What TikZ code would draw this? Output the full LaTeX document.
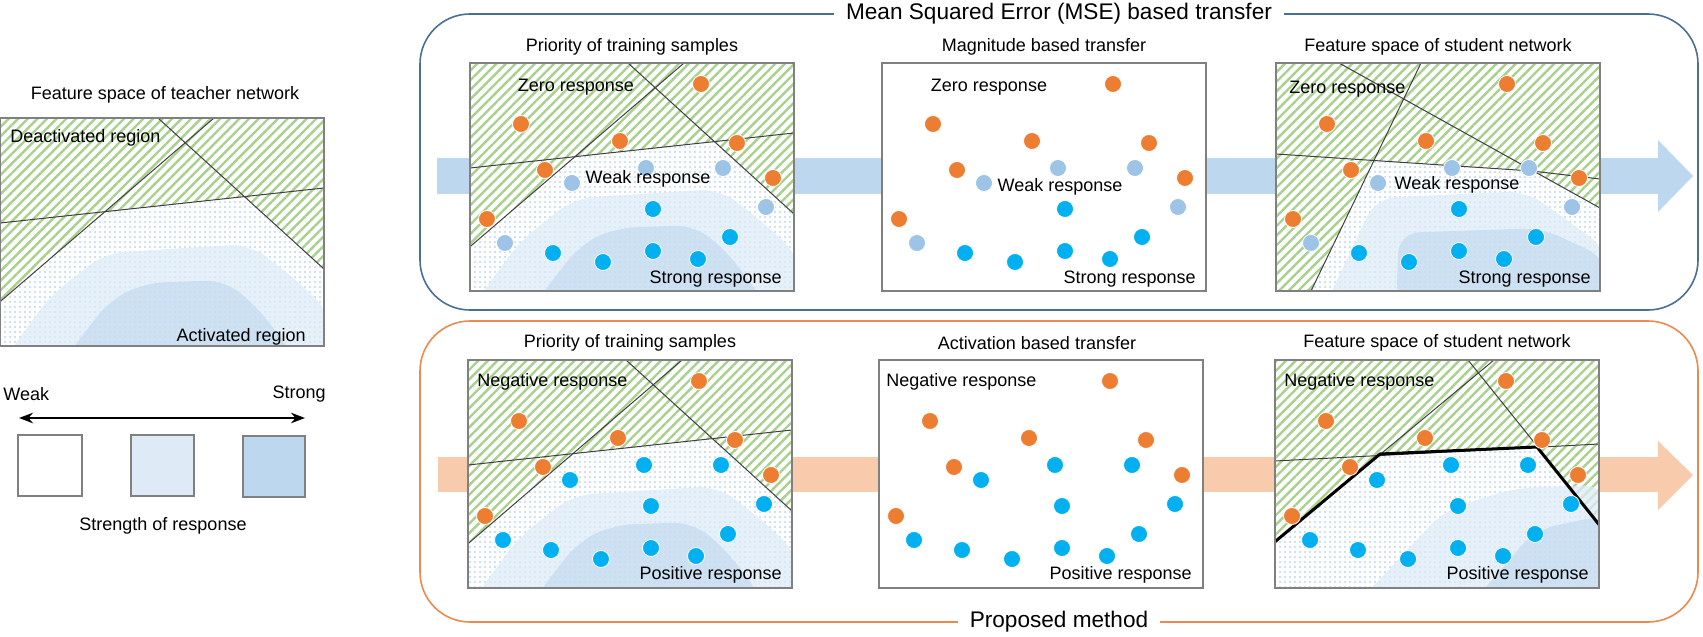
\documentclass[tikz,border=0pt]{standalone}
\usepackage{fontspec}
\setmainfont{Liberation Sans}
\usetikzlibrary{patterns.meta,arrows.meta}
\definecolor{hatch}{HTML}{A9D18E}
\definecolor{dotc}{HTML}{9DC3E6}
\definecolor{lightb}{HTML}{DEEBF7}
\definecolor{darkb}{HTML}{BDD7EE}
\definecolor{orng}{HTML}{ED7D31}
\definecolor{weakc}{HTML}{9DC3E6}
\definecolor{strongc}{HTML}{00B0F0}
\definecolor{bandb}{HTML}{BDD7EE}
\definecolor{bando}{HTML}{F8CBAD}
\definecolor{frameb}{HTML}{4A6F96}
\definecolor{frameo}{HTML}{EB8A4E}
\definecolor{lgray}{HTML}{404040}

\tikzset{
  hatched/.style={pattern={Lines[angle=45,distance=3.4pt,line width=1.2pt]}, pattern color=hatch},
  dotted area/.style={pattern={Dots[distance=2.5pt,radius=0.4pt]}, pattern color=dotc},
  panel/.style={draw=gray, line width=0.8pt},
  sep/.style={draw=lgray, line width=0.5pt},
  lab/.style={font=\fontsize{9}{10}\selectfont, inner sep=0pt},
  big/.style={font=\fontsize{11.3}{13}\selectfont, fill=white, inner xsep=6pt, inner ysep=1pt},
  smp/.style={draw=white, line width=0.4pt},
}

% samples, #1 = colour of the weak ones
\newcommand\samples[1]{%
  \foreach \u/\v in {231/21,51/61,150/78,267/80,75/107,303/115,17/156}
    \filldraw[smp, fill=orng] (\u,\v) circle (8.5);
  \foreach \u/\v in {102/120,176/105,253/105,296/144,35/180}
    \filldraw[smp, fill=#1] (\u,\v) circle (8.5);
  \foreach \u/\v in {183/146,83/190,133/199,183/188,228/196,260/174}
    \filldraw[smp, fill=strongc] (\u,\v) circle (8.5);
}

% teacher-like feature space
\newcommand\prioback{%
  \begin{scope}
    \clip (0,0) rectangle (324,228);
    \fill[white] (0,0) rectangle (324,228);
    \fill[hatched] (0,0) rectangle (324,228);
    \fill[white] (0,183.7) -- (104.9,93.7) -- (244.4,78.6) -- (324,151) -- (324,228) -- (0,228) -- cycle;
    \fill[dotted area] (0,183.7) -- (104.9,93.7) -- (244.4,78.6) -- (324,151) -- (324,228) -- (0,228) -- cycle;
    \fill[lightb, opacity=.75, rounded corners=10pt] (5,240) -- (50,178) -- (105,135) -- (250,126) -- (300,165) -- (330,195) -- (330,240) -- cycle;
    \fill[darkb, opacity=.6, rounded corners=10pt] (65,240) -- (110,182) -- (145,165) -- (225,162) -- (260,192) -- (295,240) -- cycle;
    \draw[sep] (-10,192.3) -- (230,-13.7);
    \draw[sep] (158,0) -- (335,161);
    \draw[sep] (0,105) -- (324,70);
  \end{scope}
}

\begin{document}
\begin{tikzpicture}[x=0.5pt, y=-0.5pt]
\useasboundingbox (0,0) rectangle (1703,637);

% outer frames
\draw[frameb, line width=0.8pt, rounded corners=25pt] (420,14) rectangle (1698,310);
\draw[frameo, line width=0.8pt, rounded corners=25pt] (420,321) rectangle (1698,622);
\node[big] (mse) at (1059,14) {Mean Squared Error (MSE) based transfer};
\node[big] (prop) at (1059,622) {Proposed method};

% broad arrows
\fill[bandb] (437,158) rectangle (1658,194);
\fill[bandb] (1658,140) -- (1693,176) -- (1658,212) -- cycle;
\fill[bando] (438,457) rectangle (1658,492);
\fill[bando] (1658,441) -- (1693,475) -- (1658,510) -- cycle;

% teacher
\node[lab] (tt) at (165,95) {Feature space of teacher network};
\begin{scope}[shift={(0,118)}]
  \prioback
  \node[lab, anchor=west] (tdeact) at (10,20) {Deactivated region};
  \node[lab, anchor=east] (tact) at (306,219) {Activated region};
  \draw[panel] (0,0) rectangle (324,228);
\end{scope}

% legend
\node[lab, anchor=west] (weak) at (3,394) {Weak};
\node[lab, anchor=east] (strong) at (326,394) {Strong};
\coordinate (lw) at (19,418);
\coordinate (ls) at (305,418);
\draw[line width=1.3pt, {Stealth[length=7pt]}-{Stealth[length=7pt]}] (lw) -- (ls);
\draw[panel, fill=white] (18,435) rectangle (82,496);
\draw[panel, fill=lightb] (131,435) rectangle (194,496);
\draw[panel, fill=darkb] (243,436) rectangle (305,497);
\node[lab] (sor) at (163,526) {Strength of response};

% ---- top row ----
\node[lab] (t1) at (632,47) {Priority of training samples};
\begin{scope}[shift={(470,63)}]
  \prioback
  \samples{weakc}
  \node[lab] (z1) at (106,24) {Zero response};
  \node[lab] (w1) at (178,116) {Weak response};
  \node[lab, anchor=east] (s1) at (312,216) {Strong response};
  \draw[panel] (0,0) rectangle (324,228);
\end{scope}

\node[lab] (t2) at (1044,47) {Magnitude based transfer};
\begin{scope}[shift={(882,63)}]
  \fill[white] (0,0) rectangle (324,228);
  \samples{weakc}
  \node[lab] (z2) at (107,24) {Zero response};
  \node[lab] (w2) at (178,124) {Weak response};
  \node[lab, anchor=east] (s2) at (314,216) {Strong response};
  \draw[panel] (0,0) rectangle (324,228);
\end{scope}

\node[lab] (t3) at (1438,47) {Feature space of student network};
\begin{scope}[shift={(1276,63)}]
  \begin{scope}
    \clip (0,0) rectangle (324,228);
    \fill[white] (0,0) rectangle (324,228);
    \fill[hatched] (0,0) rectangle (324,228);
    \fill[white] (98,97.5) -- (256,107.5) -- (324,145) -- (324,228) -- (35,228) -- cycle;
    \fill[dotted area] (98,97.5) -- (256,107.5) -- (324,145) -- (324,228) -- (35,228) -- cycle;
    \fill[lightb, opacity=.75, rounded corners=10pt] (50,240) -- (100,135) -- (250,128) -- (330,185) -- (330,240) -- cycle;
    \fill[darkb, opacity=.6, rounded corners=10pt] (120,240) -- (123,170) -- (265,165) -- (330,195) -- (330,240) -- cycle;
    \draw[sep] (63,0) -- (324,145);
    \draw[sep] (145,0) -- (35,228);
    \draw[sep] (0,91) -- (256,108) -- (324,116);
  \end{scope}
  \samples{weakc}
  \node[lab, anchor=west] (z3) at (13,26) {Zero response};
  \node[lab] (w3) at (181,122) {Weak response};
  \node[lab, anchor=east] (s3) at (315,216) {Strong response};
  \draw[panel] (0,0) rectangle (324,228);
\end{scope}

% ---- bottom row ----
\node[lab] (b1) at (630,343) {Priority of training samples};
\begin{scope}[shift={(468,360)}]
  \prioback
  \samples{strongc}
  \node[lab, anchor=west] (n1) at (9,22) {Negative response};
  \node[lab, anchor=east] (p1) at (314,215) {Positive response};
  \draw[panel] (0,0) rectangle (324,228);
\end{scope}

\node[lab] (b2) at (1037,343) {Activation based transfer};
\begin{scope}[shift={(879,360)}]
  \fill[white] (0,0) rectangle (324,228);
  \samples{strongc}
  \node[lab, anchor=west] (n2) at (7,22) {Negative response};
  \node[lab, anchor=east] (p2) at (313,215) {Positive response};
  \draw[panel] (0,0) rectangle (324,228);
\end{scope}

\node[lab] (b3) at (1437,343) {Feature space of student network};
\begin{scope}[shift={(1275,360)}]
  \begin{scope}
    \clip (0,0) rectangle (324,228);
    \fill[white] (0,0) rectangle (324,228);
    \fill[hatched] (0,0) rectangle (324,228);
    \fill[white] (0,181.7) -- (105,94) -- (262,87) -- (324,165) -- (324,228) -- (0,228) -- cycle;
    \fill[dotted area] (0,181.7) -- (105,94) -- (262,87) -- (324,165) -- (324,228) -- (0,228) -- cycle;
    \fill[lightb, opacity=.75, rounded corners=10pt] (85,240) -- (170,150) -- (240,128) -- (330,125) -- (330,240) -- cycle;
    \fill[darkb, opacity=.6, rounded corners=10pt] (200,240) -- (260,170) -- (330,155) -- (330,240) -- cycle;
    \draw[sep] (0,181.7) -- (219,0);
    \draw[sep] (193,0) -- (262,86);
    \draw[sep] (0,101) -- (324,84);
    \draw[line width=1.5pt, line join=round] (0,181.7) -- (105,94) -- (262,87) -- (330,172);
  \end{scope}
  \samples{strongc}
  \node[lab, anchor=west] (n3) at (9,22) {Negative response};
  \node[lab, anchor=east] (p3) at (314,215) {Positive response};
  \draw[panel] (0,0) rectangle (324,228);
\end{scope}
\end{tikzpicture}
\end{document}
